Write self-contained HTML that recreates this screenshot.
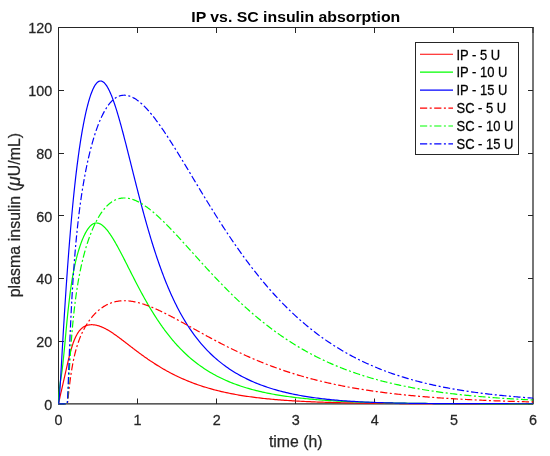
<!DOCTYPE html>
<html lang="en"><head><meta charset="utf-8"><title>IP vs. SC insulin absorption</title>
<style>
html,body{margin:0;padding:0;background:#fff;}
body{width:550px;height:456px;overflow:hidden;position:relative;font-family:"Liberation Sans",Arial,Helvetica,sans-serif;}
</style></head><body>
<svg width="550" height="456" viewBox="0 0 550 456" style="display:block;position:absolute;left:0;top:0">
<rect x="0" y="0" width="550" height="456" fill="#ffffff"/>
<clipPath id="ax"><rect x="58.00" y="27.00" width="475.50" height="378.00"/></clipPath>
<g stroke="#262626" stroke-width="1" fill="none" shape-rendering="auto">
<path d="M58.50,404.50 V27.50 H533.50"/>
<path d="M58.00,403.90 H533.50 M533.00,27.00 V404.50" stroke-width="1.25"/>
<path d="M58.50,404.00 v-5.50 M58.50,27.50 v5.50"/>
<path d="M137.50,404.00 v-5.50 M137.50,27.50 v5.50"/>
<path d="M216.50,404.00 v-5.50 M216.50,27.50 v5.50"/>
<path d="M295.50,404.00 v-5.50 M295.50,27.50 v5.50"/>
<path d="M374.50,404.00 v-5.50 M374.50,27.50 v5.50"/>
<path d="M453.50,404.00 v-5.50 M453.50,27.50 v5.50"/>
<path d="M533.00,404.00 v-5.50 M533.00,27.50 v5.50"/>
<path d="M58.50,404.00 h5.50 M533.00,404.00 h-5.00"/>
<path d="M58.50,341.50 h5.50 M533.00,341.50 h-5.00"/>
<path d="M58.50,278.50 h5.50 M533.00,278.50 h-5.00"/>
<path d="M58.50,215.50 h5.50 M533.00,215.50 h-5.00"/>
<path d="M58.50,153.50 h5.50 M533.00,153.50 h-5.00"/>
<path d="M58.50,90.50 h5.50 M533.00,90.50 h-5.00"/>
<path d="M58.50,27.50 h5.50 M533.00,27.50 h-5.00"/>
</g>
<g fill="none" stroke-width="1.2" stroke-linejoin="round" clip-path="url(#ax)">
<path d="M58.50,403.95 L58.90,402.02 L59.29,400.13 L59.69,398.29 L60.08,396.49 L60.48,394.72 L60.87,392.99 L61.27,391.27 L61.66,389.56 L62.06,387.85 L62.45,386.14 L62.85,384.42 L63.24,382.69 L63.64,380.95 L64.04,379.20 L64.43,377.43 L64.83,375.66 L65.22,373.89 L65.62,372.11 L66.01,370.34 L66.41,368.57 L66.80,366.81 L67.20,365.07 L67.59,363.35 L67.99,361.66 L68.39,359.99 L68.78,358.36 L69.18,356.76 L69.57,355.20 L69.97,353.68 L70.36,352.20 L70.76,350.77 L71.15,349.38 L71.55,348.05 L71.94,346.76 L72.34,345.51 L72.73,344.32 L73.13,343.17 L73.53,342.08 L73.92,341.03 L74.32,340.02 L74.71,339.07 L75.11,338.15 L75.50,337.28 L75.90,336.46 L76.29,335.67 L76.69,334.93 L77.08,334.22 L77.48,333.55 L77.88,332.92 L78.27,332.32 L78.67,331.75 L79.06,331.22 L79.46,330.71 L79.85,330.24 L80.25,329.79 L80.64,329.37 L81.04,328.97 L81.43,328.60 L81.83,328.25 L82.22,327.93 L82.62,327.62 L83.02,327.34 L83.41,327.07 L83.81,326.82 L84.20,326.59 L84.60,326.38 L84.99,326.18 L85.39,325.99 L85.78,325.83 L86.18,325.67 L86.57,325.53 L86.97,325.40 L87.37,325.29 L87.76,325.18 L88.16,325.09 L88.55,325.01 L88.95,324.94 L89.34,324.88 L89.74,324.83 L90.13,324.79 L90.53,324.76 L90.92,324.73 L91.32,324.72 L91.72,324.72 L92.11,324.72 L92.51,324.73 L92.90,324.75 L93.30,324.78 L93.69,324.82 L94.09,324.86 L94.48,324.91 L94.88,324.97 L95.27,325.03 L95.67,325.11 L96.06,325.18 L96.46,325.27 L96.86,325.36 L97.25,325.46 L97.65,325.56 L98.04,325.67 L98.44,325.79 L98.83,325.91 L99.23,326.04 L99.62,326.17 L100.02,326.31 L100.41,326.46 L100.81,326.61 L101.21,326.76 L101.60,326.92 L102.00,327.09 L102.39,327.26 L102.79,327.43 L103.18,327.61 L103.58,327.79 L103.97,327.98 L104.37,328.18 L104.76,328.37 L105.16,328.58 L105.55,328.78 L105.95,328.99 L106.35,329.20 L106.74,329.42 L107.14,329.64 L107.53,329.87 L107.93,330.10 L108.32,330.33 L108.72,330.56 L109.11,330.80 L109.51,331.04 L109.90,331.29 L110.30,331.54 L110.69,331.79 L111.09,332.04 L111.49,332.30 L111.88,332.56 L112.28,332.82 L112.67,333.08 L113.07,333.35 L113.46,333.62 L113.86,333.89 L114.25,334.16 L114.65,334.43 L115.04,334.71 L115.44,334.99 L115.84,335.27 L116.23,335.55 L116.63,335.84 L117.02,336.12 L117.42,336.41 L117.81,336.70 L118.21,336.99 L118.60,337.28 L119.00,337.57 L119.39,337.86 L119.79,338.16 L120.19,338.46 L120.58,338.75 L120.98,339.05 L121.37,339.35 L121.77,339.65 L122.16,339.95 L122.56,340.25 L122.95,340.55 L123.35,340.85 L123.74,341.15 L124.14,341.46 L124.53,341.76 L124.93,342.06 L125.33,342.37 L125.72,342.67 L126.12,342.98 L126.51,343.28 L126.91,343.59 L127.30,343.89 L127.70,344.20 L128.09,344.50 L128.49,344.81 L128.88,345.11 L129.28,345.42 L129.68,345.72 L130.07,346.03 L130.47,346.33 L130.86,346.64 L131.26,346.94 L131.65,347.24 L132.05,347.55 L132.44,347.85 L132.84,348.15 L133.23,348.46 L133.63,348.76 L134.02,349.06 L134.42,349.36 L134.82,349.66 L135.21,349.96 L135.61,350.26 L136.00,350.56 L136.40,350.85 L136.79,351.15 L137.19,351.45 L137.58,351.74 L137.98,352.04 L138.37,352.33 L138.77,352.63 L139.17,352.92 L139.56,353.21 L139.96,353.50 L140.35,353.80 L140.75,354.09 L141.14,354.37 L141.54,354.66 L141.93,354.95 L142.33,355.24 L142.72,355.52 L143.12,355.81 L143.51,356.09 L143.91,356.37 L144.31,356.65 L144.70,356.94 L145.10,357.22 L145.49,357.49 L145.89,357.77 L146.28,358.05 L146.68,358.33 L147.07,358.60 L147.47,358.87 L147.86,359.15 L148.26,359.42 L148.66,359.69 L149.05,359.96 L149.45,360.23 L149.84,360.50 L150.24,360.76 L150.63,361.03 L151.03,361.29 L151.42,361.56 L151.82,361.82 L152.21,362.08 L152.61,362.34 L153.00,362.60 L153.40,362.86 L153.80,363.11 L154.19,363.37 L154.59,363.62 L154.98,363.88 L155.38,364.13 L155.77,364.38 L156.17,364.63 L156.56,364.88 L156.96,365.12 L157.35,365.37 L157.75,365.62 L158.14,365.86 L158.54,366.10 L158.94,366.35 L159.33,366.59 L159.73,366.83 L160.12,367.07 L160.52,367.30 L160.91,367.54 L161.31,367.77 L161.70,368.01 L162.10,368.24 L162.49,368.47 L162.89,368.70 L163.29,368.93 L163.68,369.16 L164.08,369.39 L164.47,369.61 L164.87,369.84 L165.26,370.06 L165.66,370.28 L166.05,370.51 L166.45,370.73 L166.84,370.94 L167.24,371.16 L167.63,371.38 L168.03,371.59 L168.43,371.81 L168.82,372.02 L169.22,372.23 L169.61,372.45 L170.01,372.66 L170.40,372.86 L170.80,373.07 L171.19,373.28 L171.59,373.48 L171.98,373.69 L172.38,373.89 L172.78,374.09 L173.17,374.29 L173.57,374.49 L173.96,374.69 L174.36,374.89 L174.75,375.09 L175.15,375.28 L175.54,375.48 L175.94,375.67 L176.33,375.86 L176.73,376.05 L177.12,376.24 L178.71,376.99 L180.29,377.73 L181.87,378.44 L183.45,379.14 L185.03,379.82 L186.62,380.49 L188.20,381.14 L189.78,381.77 L191.36,382.39 L192.94,382.99 L194.52,383.58 L196.10,384.16 L197.69,384.72 L199.27,385.26 L200.85,385.79 L202.43,386.31 L204.01,386.81 L205.59,387.30 L207.18,387.78 L208.76,388.25 L210.34,388.70 L211.92,389.14 L213.50,389.57 L215.09,389.99 L216.67,390.40 L218.25,390.79 L219.83,391.17 L221.41,391.55 L222.99,391.91 L224.58,392.27 L226.16,392.61 L227.74,392.94 L229.32,393.27 L230.90,393.58 L232.48,393.89 L234.06,394.19 L235.65,394.48 L237.23,394.76 L238.81,395.04 L240.39,395.30 L241.97,395.56 L243.55,395.81 L245.14,396.05 L246.72,396.29 L248.30,396.52 L249.88,396.74 L251.46,396.96 L253.04,397.17 L254.63,397.37 L256.21,397.57 L257.79,397.76 L259.37,397.95 L260.95,398.13 L262.53,398.31 L264.12,398.48 L265.70,398.65 L267.28,398.81 L268.86,398.96 L270.44,399.11 L272.02,399.26 L273.61,399.40 L275.19,399.54 L276.77,399.68 L278.35,399.81 L279.93,399.93 L281.51,400.05 L283.10,400.17 L284.68,400.29 L286.26,400.40 L287.84,400.51 L289.42,400.61 L291.00,400.71 L292.59,400.81 L294.17,400.91 L295.75,401.00 L297.33,401.09 L298.91,401.18 L300.50,401.26 L302.08,401.34 L303.66,401.42 L305.24,401.50 L306.82,401.58 L308.40,401.65 L309.99,401.72 L311.57,401.79 L313.15,401.85 L314.73,401.91 L316.31,401.98 L317.89,402.04 L319.47,402.09 L321.06,402.15 L322.64,402.20 L324.22,402.26 L325.80,402.31 L327.38,402.36 L328.96,402.41 L330.55,402.45 L332.13,402.50 L333.71,402.54 L335.29,402.58 L336.87,402.62 L338.45,402.66 L340.04,402.70 L341.62,402.74 L343.20,402.77 L344.78,402.81 L346.36,402.84 L347.94,402.88 L349.53,402.91 L351.11,402.94 L352.69,402.97 L354.27,403.00 L355.85,403.02 L357.44,403.05 L359.02,403.08 L360.60,403.10 L362.18,403.13 L363.76,403.15 L365.34,403.17 L366.93,403.20 L368.51,403.22 L370.09,403.24 L371.67,403.26 L373.25,403.28 L374.83,403.30 L376.41,403.32 L378.00,403.33 L379.58,403.35 L381.16,403.37 L382.74,403.38 L384.32,403.40 L385.91,403.41 L387.49,403.43 L389.07,403.44 L390.65,403.46 L392.23,403.47 L393.81,403.48 L395.39,403.50 L396.98,403.51 L398.56,403.52 L400.14,403.53 L401.72,403.54 L403.30,403.55 L404.88,403.56 L406.47,403.58 L408.05,403.58 L409.63,403.59 L411.21,403.60 L412.79,403.61 L414.38,403.62 L415.96,403.63 L417.54,403.64 L419.12,403.65 L420.70,403.65 L422.28,403.66 L423.87,403.67 L425.45,403.68 L427.03,403.68 L428.61,403.69 L430.19,403.70 L431.77,403.70 L433.36,403.71 L434.94,403.71 L436.52,403.72 L438.10,403.73 L439.68,403.73 L441.26,403.74 L442.84,403.74 L444.43,403.75 L446.01,403.75 L447.59,403.76 L449.17,403.76 L450.75,403.77 L452.34,403.77 L453.92,403.77 L455.50,403.78 L457.08,403.78 L458.66,403.79 L460.24,403.79 L461.82,403.79 L463.41,403.80 L464.99,403.80 L466.57,403.80 L468.15,403.81 L469.73,403.81 L471.32,403.81 L472.90,403.82 L474.48,403.82 L476.06,403.82 L477.64,403.82 L479.22,403.83 L480.81,403.83 L482.39,403.83 L483.97,403.84 L485.55,403.84 L487.13,403.84 L488.71,403.84 L490.30,403.84 L491.88,403.85 L493.46,403.85 L495.04,403.85 L496.62,403.85 L498.20,403.86 L499.79,403.86 L501.37,403.86 L502.95,403.86 L504.53,403.86 L506.11,403.86 L507.69,403.87 L509.28,403.87 L510.86,403.87 L512.44,403.87 L514.02,403.87 L515.60,403.87 L517.18,403.88 L518.77,403.88 L520.35,403.88 L521.93,403.88 L523.51,403.88 L525.09,403.88 L526.67,403.88 L528.26,403.89 L529.84,403.89 L531.42,403.89 L533.00,403.89" stroke="#ff0000"/>
<path d="M58.50,403.95 L58.90,395.84 L59.29,390.44 L59.69,386.58 L60.08,383.59 L60.48,381.04 L60.87,378.63 L61.27,376.16 L61.66,373.51 L62.06,370.62 L62.45,367.47 L62.85,364.06 L63.24,360.41 L63.64,356.56 L64.04,352.55 L64.43,348.42 L64.83,344.21 L65.22,339.96 L65.62,335.70 L66.01,331.46 L66.41,327.27 L66.80,323.16 L67.20,319.14 L67.59,315.23 L67.99,311.43 L68.39,307.76 L68.78,304.22 L69.18,300.81 L69.57,297.54 L69.97,294.40 L70.36,291.39 L70.76,288.51 L71.15,285.76 L71.55,283.12 L71.94,280.60 L72.34,278.19 L72.73,275.88 L73.13,273.67 L73.53,271.55 L73.92,269.51 L74.32,267.56 L74.71,265.69 L75.11,263.88 L75.50,262.15 L75.90,260.48 L76.29,258.86 L76.69,257.31 L77.08,255.80 L77.48,254.35 L77.88,252.94 L78.27,251.58 L78.67,250.26 L79.06,248.98 L79.46,247.74 L79.85,246.54 L80.25,245.37 L80.64,244.24 L81.04,243.14 L81.43,242.07 L81.83,241.04 L82.22,240.04 L82.62,239.07 L83.02,238.13 L83.41,237.22 L83.81,236.34 L84.20,235.50 L84.60,234.68 L84.99,233.89 L85.39,233.12 L85.78,232.39 L86.18,231.69 L86.57,231.01 L86.97,230.36 L87.37,229.75 L87.76,229.16 L88.16,228.59 L88.55,228.06 L88.95,227.55 L89.34,227.07 L89.74,226.62 L90.13,226.20 L90.53,225.80 L90.92,225.44 L91.32,225.09 L91.72,224.78 L92.11,224.49 L92.51,224.23 L92.90,223.99 L93.30,223.78 L93.69,223.60 L94.09,223.44 L94.48,223.30 L94.88,223.19 L95.27,223.11 L95.67,223.05 L96.06,223.01 L96.46,223.00 L96.86,223.01 L97.25,223.04 L97.65,223.09 L98.04,223.17 L98.44,223.27 L98.83,223.39 L99.23,223.53 L99.62,223.69 L100.02,223.87 L100.41,224.08 L100.81,224.30 L101.21,224.54 L101.60,224.80 L102.00,225.08 L102.39,225.37 L102.79,225.68 L103.18,226.01 L103.58,226.36 L103.97,226.73 L104.37,227.11 L104.76,227.50 L105.16,227.91 L105.55,228.34 L105.95,228.78 L106.35,229.23 L106.74,229.70 L107.14,230.18 L107.53,230.68 L107.93,231.18 L108.32,231.70 L108.72,232.24 L109.11,232.78 L109.51,233.34 L109.90,233.90 L110.30,234.48 L110.69,235.06 L111.09,235.66 L111.49,236.27 L111.88,236.88 L112.28,237.51 L112.67,238.14 L113.07,238.78 L113.46,239.43 L113.86,240.09 L114.25,240.76 L114.65,241.43 L115.04,242.11 L115.44,242.80 L115.84,243.49 L116.23,244.19 L116.63,244.89 L117.02,245.61 L117.42,246.32 L117.81,247.04 L118.21,247.77 L118.60,248.50 L119.00,249.24 L119.39,249.98 L119.79,250.72 L120.19,251.47 L120.58,252.22 L120.98,252.97 L121.37,253.73 L121.77,254.49 L122.16,255.25 L122.56,256.02 L122.95,256.79 L123.35,257.56 L123.74,258.33 L124.14,259.10 L124.53,259.88 L124.93,260.65 L125.33,261.43 L125.72,262.21 L126.12,262.99 L126.51,263.78 L126.91,264.56 L127.30,265.34 L127.70,266.12 L128.09,266.91 L128.49,267.69 L128.88,268.47 L129.28,269.26 L129.68,270.04 L130.07,270.82 L130.47,271.61 L130.86,272.39 L131.26,273.17 L131.65,273.95 L132.05,274.73 L132.44,275.51 L132.84,276.28 L133.23,277.06 L133.63,277.83 L134.02,278.61 L134.42,279.38 L134.82,280.15 L135.21,280.92 L135.61,281.68 L136.00,282.45 L136.40,283.21 L136.79,283.97 L137.19,284.73 L137.58,285.48 L137.98,286.24 L138.37,286.99 L138.77,287.74 L139.17,288.49 L139.56,289.23 L139.96,289.98 L140.35,290.72 L140.75,291.45 L141.14,292.19 L141.54,292.92 L141.93,293.65 L142.33,294.37 L142.72,295.10 L143.12,295.82 L143.51,296.54 L143.91,297.25 L144.31,297.96 L144.70,298.67 L145.10,299.38 L145.49,300.08 L145.89,300.78 L146.28,301.47 L146.68,302.17 L147.07,302.86 L147.47,303.54 L147.86,304.23 L148.26,304.90 L148.66,305.58 L149.05,306.25 L149.45,306.92 L149.84,307.59 L150.24,308.25 L150.63,308.91 L151.03,309.57 L151.42,310.22 L151.82,310.87 L152.21,311.52 L152.61,312.16 L153.00,312.80 L153.40,313.43 L153.80,314.07 L154.19,314.69 L154.59,315.32 L154.98,315.94 L155.38,316.56 L155.77,317.17 L156.17,317.78 L156.56,318.39 L156.96,318.99 L157.35,319.60 L157.75,320.19 L158.14,320.78 L158.54,321.37 L158.94,321.96 L159.33,322.54 L159.73,323.12 L160.12,323.70 L160.52,324.27 L160.91,324.84 L161.31,325.40 L161.70,325.96 L162.10,326.52 L162.49,327.08 L162.89,327.63 L163.29,328.18 L163.68,328.72 L164.08,329.26 L164.47,329.80 L164.87,330.33 L165.26,330.86 L165.66,331.39 L166.05,331.91 L166.45,332.43 L166.84,332.95 L167.24,333.46 L167.63,333.97 L168.03,334.48 L168.43,334.98 L168.82,335.48 L169.22,335.98 L169.61,336.47 L170.01,336.96 L170.40,337.45 L170.80,337.93 L171.19,338.41 L171.59,338.89 L171.98,339.36 L172.38,339.83 L172.78,340.30 L173.17,340.76 L173.57,341.22 L173.96,341.68 L174.36,342.14 L174.75,342.59 L175.15,343.04 L175.54,343.48 L175.94,343.92 L176.33,344.36 L176.73,344.80 L177.12,345.23 L178.71,346.93 L180.29,348.59 L181.87,350.20 L183.45,351.76 L185.03,353.28 L186.62,354.75 L188.20,356.19 L189.78,357.58 L191.36,358.93 L192.94,360.24 L194.52,361.52 L196.10,362.76 L197.69,363.96 L199.27,365.13 L200.85,366.26 L202.43,367.36 L204.01,368.43 L205.59,369.47 L207.18,370.48 L208.76,371.45 L210.34,372.40 L211.92,373.32 L213.50,374.22 L215.09,375.08 L216.67,375.93 L218.25,376.74 L219.83,377.54 L221.41,378.31 L222.99,379.05 L224.58,379.78 L226.16,380.48 L227.74,381.17 L229.32,381.83 L230.90,382.47 L232.48,383.10 L234.06,383.70 L235.65,384.29 L237.23,384.86 L238.81,385.42 L240.39,385.96 L241.97,386.48 L243.55,386.99 L245.14,387.48 L246.72,387.96 L248.30,388.42 L249.88,388.87 L251.46,389.31 L253.04,389.73 L254.63,390.15 L256.21,390.55 L257.79,390.94 L259.37,391.31 L260.95,391.68 L262.53,392.04 L264.12,392.38 L265.70,392.72 L267.28,393.05 L268.86,393.36 L270.44,393.67 L272.02,393.97 L273.61,394.26 L275.19,394.54 L276.77,394.81 L278.35,395.08 L279.93,395.34 L281.51,395.59 L283.10,395.83 L284.68,396.07 L286.26,396.30 L287.84,396.52 L289.42,396.74 L291.00,396.95 L292.59,397.16 L294.17,397.35 L295.75,397.55 L297.33,397.74 L298.91,397.92 L300.50,398.10 L302.08,398.27 L303.66,398.43 L305.24,398.60 L306.82,398.76 L308.40,398.91 L309.99,399.06 L311.57,399.20 L313.15,399.34 L314.73,399.48 L316.31,399.61 L317.89,399.74 L319.47,399.87 L321.06,399.99 L322.64,400.11 L324.22,400.22 L325.80,400.33 L327.38,400.44 L328.96,400.55 L330.55,400.65 L332.13,400.75 L333.71,400.84 L335.29,400.94 L336.87,401.03 L338.45,401.11 L340.04,401.20 L341.62,401.28 L343.20,401.36 L344.78,401.44 L346.36,401.52 L347.94,401.59 L349.53,401.66 L351.11,401.73 L352.69,401.80 L354.27,401.87 L355.85,401.93 L357.44,401.99 L359.02,402.05 L360.60,402.11 L362.18,402.17 L363.76,402.22 L365.34,402.27 L366.93,402.33 L368.51,402.38 L370.09,402.42 L371.67,402.47 L373.25,402.52 L374.83,402.56 L376.41,402.60 L378.00,402.65 L379.58,402.69 L381.16,402.72 L382.74,402.76 L384.32,402.80 L385.91,402.84 L387.49,402.87 L389.07,402.90 L390.65,402.94 L392.23,402.97 L393.81,403.00 L395.39,403.03 L396.98,403.06 L398.56,403.08 L400.14,403.11 L401.72,403.14 L403.30,403.16 L404.88,403.19 L406.47,403.21 L408.05,403.24 L409.63,403.26 L411.21,403.28 L412.79,403.30 L414.38,403.32 L415.96,403.34 L417.54,403.36 L419.12,403.38 L420.70,403.40 L422.28,403.41 L423.87,403.43 L425.45,403.45 L427.03,403.46 L428.61,403.48 L430.19,403.49 L431.77,403.51 L433.36,403.52 L434.94,403.53 L436.52,403.55 L438.10,403.56 L439.68,403.57 L441.26,403.58 L442.84,403.60 L444.43,403.61 L446.01,403.62 L447.59,403.63 L449.17,403.64 L450.75,403.65 L452.34,403.66 L453.92,403.67 L455.50,403.68 L457.08,403.68 L458.66,403.69 L460.24,403.70 L461.82,403.71 L463.41,403.72 L464.99,403.72 L466.57,403.73 L468.15,403.74 L469.73,403.74 L471.32,403.75 L472.90,403.76 L474.48,403.76 L476.06,403.77 L477.64,403.77 L479.22,403.78 L480.81,403.79 L482.39,403.79 L483.97,403.80 L485.55,403.80 L487.13,403.80 L488.71,403.81 L490.30,403.81 L491.88,403.82 L493.46,403.82 L495.04,403.83 L496.62,403.83 L498.20,403.83 L499.79,403.84 L501.37,403.84 L502.95,403.84 L504.53,403.85 L506.11,403.85 L507.69,403.85 L509.28,403.86 L510.86,403.86 L512.44,403.86 L514.02,403.86 L515.60,403.87 L517.18,403.87 L518.77,403.87 L520.35,403.87 L521.93,403.88 L523.51,403.88 L525.09,403.88 L526.67,403.88 L528.26,403.88 L529.84,403.89 L531.42,403.89 L533.00,403.89" stroke="#00ff00"/>
<path d="M58.50,403.95 L58.90,401.52 L59.29,397.55 L59.69,392.56 L60.08,386.83 L60.48,380.59 L60.87,374.02 L61.27,367.27 L61.66,360.42 L62.06,353.55 L62.45,346.71 L62.85,339.94 L63.24,333.26 L63.64,326.68 L64.04,320.20 L64.43,313.85 L64.83,307.61 L65.22,301.48 L65.62,295.47 L66.01,289.57 L66.41,283.78 L66.80,278.10 L67.20,272.52 L67.59,267.06 L67.99,261.69 L68.39,256.44 L68.78,251.28 L69.18,246.23 L69.57,241.28 L69.97,236.43 L70.36,231.69 L70.76,227.04 L71.15,222.50 L71.55,218.05 L71.94,213.71 L72.34,209.46 L72.73,205.31 L73.13,201.25 L73.53,197.29 L73.92,193.42 L74.32,189.65 L74.71,185.97 L75.11,182.37 L75.50,178.86 L75.90,175.44 L76.29,172.10 L76.69,168.85 L77.08,165.67 L77.48,162.57 L77.88,159.55 L78.27,156.61 L78.67,153.74 L79.06,150.94 L79.46,148.21 L79.85,145.54 L80.25,142.95 L80.64,140.42 L81.04,137.95 L81.43,135.55 L81.83,133.21 L82.22,130.93 L82.62,128.70 L83.02,126.54 L83.41,124.43 L83.81,122.38 L84.20,120.38 L84.60,118.43 L84.99,116.55 L85.39,114.71 L85.78,112.92 L86.18,111.19 L86.57,109.51 L86.97,107.88 L87.37,106.30 L87.76,104.77 L88.16,103.29 L88.55,101.86 L88.95,100.47 L89.34,99.14 L89.74,97.86 L90.13,96.62 L90.53,95.43 L90.92,94.29 L91.32,93.20 L91.72,92.16 L92.11,91.16 L92.51,90.21 L92.90,89.31 L93.30,88.46 L93.69,87.65 L94.09,86.89 L94.48,86.18 L94.88,85.52 L95.27,84.90 L95.67,84.32 L96.06,83.80 L96.46,83.32 L96.86,82.88 L97.25,82.49 L97.65,82.15 L98.04,81.85 L98.44,81.60 L98.83,81.39 L99.23,81.22 L99.62,81.10 L100.02,81.03 L100.41,80.99 L100.81,81.00 L101.21,81.05 L101.60,81.14 L102.00,81.28 L102.39,81.45 L102.79,81.67 L103.18,81.92 L103.58,82.22 L103.97,82.55 L104.37,82.93 L104.76,83.34 L105.16,83.79 L105.55,84.27 L105.95,84.80 L106.35,85.35 L106.74,85.95 L107.14,86.58 L107.53,87.24 L107.93,87.94 L108.32,88.66 L108.72,89.42 L109.11,90.22 L109.51,91.04 L109.90,91.89 L110.30,92.78 L110.69,93.69 L111.09,94.63 L111.49,95.60 L111.88,96.59 L112.28,97.61 L112.67,98.66 L113.07,99.73 L113.46,100.83 L113.86,101.95 L114.25,103.09 L114.65,104.26 L115.04,105.45 L115.44,106.65 L115.84,107.88 L116.23,109.13 L116.63,110.40 L117.02,111.68 L117.42,112.99 L117.81,114.31 L118.21,115.65 L118.60,117.00 L119.00,118.37 L119.39,119.75 L119.79,121.15 L120.19,122.56 L120.58,123.98 L120.98,125.42 L121.37,126.87 L121.77,128.33 L122.16,129.80 L122.56,131.28 L122.95,132.76 L123.35,134.26 L123.74,135.77 L124.14,137.28 L124.53,138.81 L124.93,140.34 L125.33,141.87 L125.72,143.41 L126.12,144.96 L126.51,146.51 L126.91,148.07 L127.30,149.63 L127.70,151.20 L128.09,152.77 L128.49,154.34 L128.88,155.91 L129.28,157.49 L129.68,159.06 L130.07,160.64 L130.47,162.22 L130.86,163.80 L131.26,165.38 L131.65,166.96 L132.05,168.54 L132.44,170.12 L132.84,171.70 L133.23,173.28 L133.63,174.85 L134.02,176.43 L134.42,178.00 L134.82,179.56 L135.21,181.13 L135.61,182.69 L136.00,184.25 L136.40,185.80 L136.79,187.36 L137.19,188.90 L137.58,190.44 L137.98,191.98 L138.37,193.52 L138.77,195.04 L139.17,196.57 L139.56,198.08 L139.96,199.60 L140.35,201.10 L140.75,202.60 L141.14,204.10 L141.54,205.59 L141.93,207.07 L142.33,208.54 L142.72,210.01 L143.12,211.47 L143.51,212.93 L143.91,214.38 L144.31,215.82 L144.70,217.25 L145.10,218.68 L145.49,220.09 L145.89,221.51 L146.28,222.91 L146.68,224.30 L147.07,225.69 L147.47,227.07 L147.86,228.44 L148.26,229.81 L148.66,231.16 L149.05,232.51 L149.45,233.85 L149.84,235.18 L150.24,236.50 L150.63,237.82 L151.03,239.13 L151.42,240.42 L151.82,241.71 L152.21,242.99 L152.61,244.26 L153.00,245.53 L153.40,246.78 L153.80,248.03 L154.19,249.27 L154.59,250.50 L154.98,251.72 L155.38,252.93 L155.77,254.13 L156.17,255.33 L156.56,256.51 L156.96,257.69 L157.35,258.86 L157.75,260.02 L158.14,261.17 L158.54,262.31 L158.94,263.45 L159.33,264.57 L159.73,265.69 L160.12,266.80 L160.52,267.90 L160.91,268.99 L161.31,270.07 L161.70,271.15 L162.10,272.22 L162.49,273.27 L162.89,274.32 L163.29,275.37 L163.68,276.40 L164.08,277.42 L164.47,278.44 L164.87,279.45 L165.26,280.45 L165.66,281.44 L166.05,282.43 L166.45,283.40 L166.84,284.37 L167.24,285.33 L167.63,286.29 L168.03,287.23 L168.43,288.17 L168.82,289.10 L169.22,290.02 L169.61,290.93 L170.01,291.84 L170.40,292.74 L170.80,293.63 L171.19,294.51 L171.59,295.39 L171.98,296.26 L172.38,297.12 L172.78,297.98 L173.17,298.82 L173.57,299.66 L173.96,300.50 L174.36,301.32 L174.75,302.14 L175.15,302.96 L175.54,303.76 L175.94,304.56 L176.33,305.35 L176.73,306.14 L177.12,306.91 L178.71,309.96 L180.29,312.91 L181.87,315.75 L183.45,318.51 L185.03,321.16 L186.62,323.73 L188.20,326.21 L189.78,328.61 L191.36,330.93 L192.94,333.17 L194.52,335.34 L196.10,337.44 L197.69,339.46 L199.27,341.42 L200.85,343.32 L202.43,345.16 L204.01,346.93 L205.59,348.65 L207.18,350.32 L208.76,351.93 L210.34,353.49 L211.92,355.00 L213.50,356.47 L215.09,357.89 L216.67,359.27 L218.25,360.60 L219.83,361.89 L221.41,363.15 L222.99,364.37 L224.58,365.55 L226.16,366.69 L227.74,367.80 L229.32,368.88 L230.90,369.93 L232.48,370.95 L234.06,371.93 L235.65,372.89 L237.23,373.82 L238.81,374.73 L240.39,375.60 L241.97,376.46 L243.55,377.28 L245.14,378.09 L246.72,378.87 L248.30,379.63 L249.88,380.37 L251.46,381.08 L253.04,381.78 L254.63,382.46 L256.21,383.11 L257.79,383.75 L259.37,384.37 L260.95,384.97 L262.53,385.56 L264.12,386.13 L265.70,386.68 L267.28,387.22 L268.86,387.74 L270.44,388.25 L272.02,388.74 L273.61,389.22 L275.19,389.68 L276.77,390.13 L278.35,390.57 L279.93,391.00 L281.51,391.41 L283.10,391.81 L284.68,392.20 L286.26,392.58 L287.84,392.95 L289.42,393.31 L291.00,393.65 L292.59,393.99 L294.17,394.31 L295.75,394.63 L297.33,394.94 L298.91,395.24 L300.50,395.53 L302.08,395.81 L303.66,396.08 L305.24,396.34 L306.82,396.60 L308.40,396.85 L309.99,397.09 L311.57,397.32 L313.15,397.55 L314.73,397.77 L316.31,397.98 L317.89,398.19 L319.47,398.39 L321.06,398.58 L322.64,398.77 L324.22,398.95 L325.80,399.13 L327.38,399.30 L328.96,399.46 L330.55,399.62 L332.13,399.78 L333.71,399.93 L335.29,400.07 L336.87,400.21 L338.45,400.35 L340.04,400.48 L341.62,400.60 L343.20,400.73 L344.78,400.85 L346.36,400.96 L347.94,401.07 L349.53,401.18 L351.11,401.28 L352.69,401.38 L354.27,401.47 L355.85,401.57 L357.44,401.66 L359.02,401.74 L360.60,401.82 L362.18,401.90 L363.76,401.98 L365.34,402.06 L366.93,402.13 L368.51,402.20 L370.09,402.26 L371.67,402.33 L373.25,402.39 L374.83,402.45 L376.41,402.50 L378.00,402.56 L379.58,402.61 L381.16,402.66 L382.74,402.71 L384.32,402.75 L385.91,402.80 L387.49,402.84 L389.07,402.88 L390.65,402.92 L392.23,402.96 L393.81,403.00 L395.39,403.03 L396.98,403.07 L398.56,403.10 L400.14,403.13 L401.72,403.16 L403.30,403.18 L404.88,403.21 L406.47,403.24 L408.05,403.26 L409.63,403.29 L411.21,403.31 L412.79,403.33 L414.38,403.35 L415.96,403.37 L417.54,403.39 L419.12,403.41 L420.70,403.42 L422.28,403.44 L423.87,403.45 L425.45,403.47 L427.03,403.48 L428.61,403.50 L430.19,403.51 L431.77,403.52 L433.36,403.53 L434.94,403.54 L436.52,403.55 L438.10,403.56 L439.68,403.57 L441.26,403.58 L442.84,403.59 L444.43,403.60 L446.01,403.61 L447.59,403.61 L449.17,403.62 L450.75,403.63 L452.34,403.63 L453.92,403.64 L455.50,403.64 L457.08,403.65 L458.66,403.65 L460.24,403.66 L461.82,403.66 L463.41,403.67 L464.99,403.67 L466.57,403.67 L468.15,403.68 L469.73,403.68 L471.32,403.68 L472.90,403.69 L474.48,403.69 L476.06,403.69 L477.64,403.70 L479.22,403.70 L480.81,403.70 L482.39,403.70 L483.97,403.70 L485.55,403.71 L487.13,403.71 L488.71,403.71 L490.30,403.71 L491.88,403.71 L493.46,403.71 L495.04,403.72 L496.62,403.72 L498.20,403.72 L499.79,403.72 L501.37,403.72 L502.95,403.72 L504.53,403.72 L506.11,403.72 L507.69,403.72 L509.28,403.73 L510.86,403.73 L512.44,403.73 L514.02,403.73 L515.60,403.73 L517.18,403.73 L518.77,403.73 L520.35,403.73 L521.93,403.73 L523.51,403.73 L525.09,403.73 L526.67,403.74 L528.26,403.74 L529.84,403.74 L531.42,403.74 L533.00,403.74" stroke="#0000ff"/>
<path d="M58.50,403.95 L58.90,403.95 L59.29,403.95 L59.69,403.95 L60.08,403.95 L60.48,403.95 L60.87,403.95 L61.27,403.95 L61.66,403.95 L62.06,403.95 L62.45,403.95 L62.85,403.95 L63.24,403.95 L63.64,403.95 L64.04,403.95 L64.43,403.95 L64.83,403.95 L65.22,403.95 L65.62,403.95 L66.01,403.95 L66.41,403.95 L66.80,403.95 L67.20,403.95 L67.59,402.33 L67.99,399.10 L68.39,395.46 L68.78,391.80 L69.18,388.26 L69.57,384.90 L69.97,381.72 L70.36,378.72 L70.76,375.89 L71.15,373.21 L71.55,370.69 L71.94,368.30 L72.34,366.03 L72.73,363.88 L73.13,361.85 L73.53,359.91 L73.92,358.06 L74.32,356.30 L74.71,354.62 L75.11,353.02 L75.50,351.49 L75.90,350.02 L76.29,348.61 L76.69,347.26 L77.08,345.96 L77.48,344.71 L77.88,343.50 L78.27,342.34 L78.67,341.22 L79.06,340.14 L79.46,339.09 L79.85,338.08 L80.25,337.09 L80.64,336.14 L81.04,335.22 L81.43,334.32 L81.83,333.45 L82.22,332.60 L82.62,331.78 L83.02,330.97 L83.41,330.19 L83.81,329.43 L84.20,328.69 L84.60,327.96 L84.99,327.25 L85.39,326.56 L85.78,325.89 L86.18,325.23 L86.57,324.58 L86.97,323.95 L87.37,323.33 L87.76,322.73 L88.16,322.14 L88.55,321.56 L88.95,321.00 L89.34,320.44 L89.74,319.90 L90.13,319.37 L90.53,318.85 L90.92,318.34 L91.32,317.84 L91.72,317.35 L92.11,316.87 L92.51,316.40 L92.90,315.94 L93.30,315.49 L93.69,315.05 L94.09,314.62 L94.48,314.20 L94.88,313.78 L95.27,313.38 L95.67,312.98 L96.06,312.59 L96.46,312.21 L96.86,311.84 L97.25,311.47 L97.65,311.11 L98.04,310.77 L98.44,310.42 L98.83,310.09 L99.23,309.76 L99.62,309.44 L100.02,309.13 L100.41,308.82 L100.81,308.52 L101.21,308.23 L101.60,307.95 L102.00,307.67 L102.39,307.40 L102.79,307.13 L103.18,306.87 L103.58,306.62 L103.97,306.37 L104.37,306.13 L104.76,305.90 L105.16,305.67 L105.55,305.45 L105.95,305.23 L106.35,305.02 L106.74,304.82 L107.14,304.62 L107.53,304.43 L107.93,304.24 L108.32,304.06 L108.72,303.89 L109.11,303.72 L109.51,303.55 L109.90,303.39 L110.30,303.24 L110.69,303.09 L111.09,302.94 L111.49,302.81 L111.88,302.67 L112.28,302.54 L112.67,302.42 L113.07,302.30 L113.46,302.19 L113.86,302.08 L114.25,301.97 L114.65,301.87 L115.04,301.78 L115.44,301.68 L115.84,301.60 L116.23,301.52 L116.63,301.44 L117.02,301.37 L117.42,301.30 L117.81,301.23 L118.21,301.17 L118.60,301.11 L119.00,301.06 L119.39,301.01 L119.79,300.97 L120.19,300.93 L120.58,300.89 L120.98,300.86 L121.37,300.83 L121.77,300.81 L122.16,300.79 L122.56,300.77 L122.95,300.76 L123.35,300.75 L123.74,300.74 L124.14,300.74 L124.53,300.74 L124.93,300.74 L125.33,300.75 L125.72,300.76 L126.12,300.78 L126.51,300.80 L126.91,300.82 L127.30,300.84 L127.70,300.87 L128.09,300.90 L128.49,300.93 L128.88,300.97 L129.28,301.01 L129.68,301.05 L130.07,301.10 L130.47,301.15 L130.86,301.20 L131.26,301.25 L131.65,301.31 L132.05,301.37 L132.44,301.43 L132.84,301.50 L133.23,301.57 L133.63,301.64 L134.02,301.71 L134.42,301.79 L134.82,301.86 L135.21,301.95 L135.61,302.03 L136.00,302.11 L136.40,302.20 L136.79,302.29 L137.19,302.39 L137.58,302.48 L137.98,302.58 L138.37,302.68 L138.77,302.78 L139.17,302.89 L139.56,302.99 L139.96,303.10 L140.35,303.21 L140.75,303.33 L141.14,303.44 L141.54,303.56 L141.93,303.68 L142.33,303.80 L142.72,303.92 L143.12,304.05 L143.51,304.18 L143.91,304.30 L144.31,304.43 L144.70,304.57 L145.10,304.70 L145.49,304.84 L145.89,304.98 L146.28,305.12 L146.68,305.26 L147.07,305.40 L147.47,305.54 L147.86,305.69 L148.26,305.84 L148.66,305.99 L149.05,306.14 L149.45,306.29 L149.84,306.45 L150.24,306.60 L150.63,306.76 L151.03,306.92 L151.42,307.08 L151.82,307.24 L152.21,307.40 L152.61,307.56 L153.00,307.73 L153.40,307.90 L153.80,308.06 L154.19,308.23 L154.59,308.40 L154.98,308.57 L155.38,308.75 L155.77,308.92 L156.17,309.10 L156.56,309.27 L156.96,309.45 L157.35,309.63 L157.75,309.81 L158.14,309.99 L158.54,310.17 L158.94,310.35 L159.33,310.54 L159.73,310.72 L160.12,310.91 L160.52,311.09 L160.91,311.28 L161.31,311.47 L161.70,311.66 L162.10,311.85 L162.49,312.04 L162.89,312.23 L163.29,312.43 L163.68,312.62 L164.08,312.82 L164.47,313.01 L164.87,313.21 L165.26,313.41 L165.66,313.60 L166.05,313.80 L166.45,314.00 L166.84,314.20 L167.24,314.40 L167.63,314.60 L168.03,314.80 L168.43,315.01 L168.82,315.21 L169.22,315.41 L169.61,315.62 L170.01,315.82 L170.40,316.03 L170.80,316.24 L171.19,316.44 L171.59,316.65 L171.98,316.86 L172.38,317.07 L172.78,317.27 L173.17,317.48 L173.57,317.69 L173.96,317.90 L174.36,318.11 L174.75,318.33 L175.15,318.54 L175.54,318.75 L175.94,318.96 L176.33,319.17 L176.73,319.39 L177.12,319.60 L178.71,320.46 L180.29,321.32 L181.87,322.18 L183.45,323.05 L185.03,323.93 L186.62,324.80 L188.20,325.68 L189.78,326.56 L191.36,327.43 L192.94,328.31 L194.52,329.19 L196.10,330.07 L197.69,330.95 L199.27,331.82 L200.85,332.69 L202.43,333.56 L204.01,334.43 L205.59,335.30 L207.18,336.16 L208.76,337.02 L210.34,337.87 L211.92,338.72 L213.50,339.56 L215.09,340.40 L216.67,341.24 L218.25,342.07 L219.83,342.90 L221.41,343.71 L222.99,344.53 L224.58,345.34 L226.16,346.14 L227.74,346.93 L229.32,347.72 L230.90,348.50 L232.48,349.28 L234.06,350.05 L235.65,350.81 L237.23,351.57 L238.81,352.32 L240.39,353.06 L241.97,353.79 L243.55,354.52 L245.14,355.24 L246.72,355.95 L248.30,356.66 L249.88,357.35 L251.46,358.04 L253.04,358.73 L254.63,359.40 L256.21,360.07 L257.79,360.73 L259.37,361.38 L260.95,362.03 L262.53,362.67 L264.12,363.30 L265.70,363.92 L267.28,364.53 L268.86,365.14 L270.44,365.74 L272.02,366.34 L273.61,366.92 L275.19,367.50 L276.77,368.07 L278.35,368.63 L279.93,369.19 L281.51,369.74 L283.10,370.28 L284.68,370.82 L286.26,371.34 L287.84,371.86 L289.42,372.38 L291.00,372.88 L292.59,373.38 L294.17,373.88 L295.75,374.36 L297.33,374.84 L298.91,375.31 L300.50,375.78 L302.08,376.24 L303.66,376.69 L305.24,377.14 L306.82,377.58 L308.40,378.01 L309.99,378.44 L311.57,378.86 L313.15,379.27 L314.73,379.68 L316.31,380.08 L317.89,380.48 L319.47,380.87 L321.06,381.26 L322.64,381.64 L324.22,382.01 L325.80,382.38 L327.38,382.74 L328.96,383.10 L330.55,383.45 L332.13,383.79 L333.71,384.13 L335.29,384.47 L336.87,384.80 L338.45,385.12 L340.04,385.44 L341.62,385.76 L343.20,386.07 L344.78,386.37 L346.36,386.67 L347.94,386.97 L349.53,387.26 L351.11,387.54 L352.69,387.82 L354.27,388.10 L355.85,388.37 L357.44,388.64 L359.02,388.91 L360.60,389.17 L362.18,389.42 L363.76,389.67 L365.34,389.92 L366.93,390.16 L368.51,390.40 L370.09,390.64 L371.67,390.87 L373.25,391.10 L374.83,391.32 L376.41,391.54 L378.00,391.76 L379.58,391.97 L381.16,392.18 L382.74,392.39 L384.32,392.59 L385.91,392.79 L387.49,392.98 L389.07,393.18 L390.65,393.37 L392.23,393.55 L393.81,393.73 L395.39,393.91 L396.98,394.09 L398.56,394.27 L400.14,394.44 L401.72,394.61 L403.30,394.77 L404.88,394.93 L406.47,395.09 L408.05,395.25 L409.63,395.41 L411.21,395.56 L412.79,395.71 L414.38,395.85 L415.96,396.00 L417.54,396.14 L419.12,396.28 L420.70,396.42 L422.28,396.55 L423.87,396.69 L425.45,396.82 L427.03,396.94 L428.61,397.07 L430.19,397.19 L431.77,397.32 L433.36,397.43 L434.94,397.55 L436.52,397.67 L438.10,397.78 L439.68,397.89 L441.26,398.00 L442.84,398.11 L444.43,398.22 L446.01,398.32 L447.59,398.42 L449.17,398.52 L450.75,398.62 L452.34,398.72 L453.92,398.81 L455.50,398.91 L457.08,399.00 L458.66,399.09 L460.24,399.18 L461.82,399.27 L463.41,399.35 L464.99,399.44 L466.57,399.52 L468.15,399.60 L469.73,399.68 L471.32,399.76 L472.90,399.84 L474.48,399.91 L476.06,399.99 L477.64,400.06 L479.22,400.13 L480.81,400.20 L482.39,400.27 L483.97,400.34 L485.55,400.41 L487.13,400.47 L488.71,400.54 L490.30,400.60 L491.88,400.67 L493.46,400.73 L495.04,400.79 L496.62,400.85 L498.20,400.90 L499.79,400.96 L501.37,401.02 L502.95,401.07 L504.53,401.13 L506.11,401.18 L507.69,401.23 L509.28,401.28 L510.86,401.33 L512.44,401.38 L514.02,401.43 L515.60,401.48 L517.18,401.52 L518.77,401.57 L520.35,401.62 L521.93,401.66 L523.51,401.70 L525.09,401.75 L526.67,401.79 L528.26,401.83 L529.84,401.87 L531.42,401.91 L533.00,401.95" stroke="#ff0000" stroke-dasharray="7.2 2.5 2 2.5"/>
<path d="M58.50,403.95 L58.90,403.95 L59.29,403.95 L59.69,403.95 L60.08,403.95 L60.48,403.95 L60.87,403.95 L61.27,403.95 L61.66,403.95 L62.06,403.95 L62.45,403.95 L62.85,403.95 L63.24,403.95 L63.64,403.95 L64.04,403.95 L64.43,403.95 L64.83,403.95 L65.22,403.95 L65.62,403.95 L66.01,403.95 L66.41,403.95 L66.80,403.95 L67.20,403.95 L67.59,400.76 L67.99,394.47 L68.39,387.31 L68.78,380.06 L69.18,373.01 L69.57,366.29 L69.97,359.94 L70.36,353.94 L70.76,348.27 L71.15,342.93 L71.55,337.87 L71.94,333.09 L72.34,328.56 L72.73,324.27 L73.13,320.19 L73.53,316.31 L73.92,312.62 L74.32,309.11 L74.71,305.75 L75.11,302.54 L75.50,299.47 L75.90,296.54 L76.29,293.72 L76.69,291.01 L77.08,288.41 L77.48,285.91 L77.88,283.50 L78.27,281.18 L78.67,278.94 L79.06,276.77 L79.46,274.68 L79.85,272.65 L80.25,270.69 L80.64,268.78 L81.04,266.94 L81.43,265.14 L81.83,263.40 L82.22,261.70 L82.62,260.06 L83.02,258.45 L83.41,256.89 L83.81,255.36 L84.20,253.87 L84.60,252.42 L84.99,251.01 L85.39,249.62 L85.78,248.27 L86.18,246.95 L86.57,245.66 L86.97,244.40 L87.37,243.17 L87.76,241.96 L88.16,240.78 L88.55,239.62 L88.95,238.49 L89.34,237.39 L89.74,236.30 L90.13,235.24 L90.53,234.20 L90.92,233.18 L91.32,232.18 L91.72,231.20 L92.11,230.25 L92.51,229.31 L92.90,228.39 L93.30,227.49 L93.69,226.61 L94.09,225.74 L94.48,224.90 L94.88,224.07 L95.27,223.26 L95.67,222.46 L96.06,221.68 L96.46,220.92 L96.86,220.17 L97.25,219.44 L97.65,218.73 L98.04,218.03 L98.44,217.35 L98.83,216.68 L99.23,216.02 L99.62,215.38 L100.02,214.76 L100.41,214.14 L100.81,213.55 L101.21,212.96 L101.60,212.39 L102.00,211.84 L102.39,211.29 L102.79,210.76 L103.18,210.24 L103.58,209.74 L103.97,209.25 L104.37,208.77 L104.76,208.30 L105.16,207.84 L105.55,207.40 L105.95,206.97 L106.35,206.55 L106.74,206.14 L107.14,205.74 L107.53,205.36 L107.93,204.99 L108.32,204.62 L108.72,204.27 L109.11,203.93 L109.51,203.60 L109.90,203.28 L110.30,202.97 L110.69,202.68 L111.09,202.39 L111.49,202.11 L111.88,201.84 L112.28,201.58 L112.67,201.34 L113.07,201.10 L113.46,200.87 L113.86,200.65 L114.25,200.44 L114.65,200.24 L115.04,200.05 L115.44,199.87 L115.84,199.70 L116.23,199.53 L116.63,199.38 L117.02,199.23 L117.42,199.09 L117.81,198.96 L118.21,198.84 L118.60,198.73 L119.00,198.63 L119.39,198.53 L119.79,198.44 L120.19,198.36 L120.58,198.29 L120.98,198.22 L121.37,198.17 L121.77,198.12 L122.16,198.08 L122.56,198.04 L122.95,198.02 L123.35,198.00 L123.74,197.98 L124.14,197.98 L124.53,197.98 L124.93,197.99 L125.33,198.00 L125.72,198.03 L126.12,198.05 L126.51,198.09 L126.91,198.13 L127.30,198.18 L127.70,198.24 L128.09,198.30 L128.49,198.36 L128.88,198.44 L129.28,198.52 L129.68,198.60 L130.07,198.69 L130.47,198.79 L130.86,198.89 L131.26,199.00 L131.65,199.12 L132.05,199.24 L132.44,199.36 L132.84,199.49 L133.23,199.63 L133.63,199.77 L134.02,199.92 L134.42,200.07 L134.82,200.23 L135.21,200.39 L135.61,200.56 L136.00,200.73 L136.40,200.91 L136.79,201.09 L137.19,201.27 L137.58,201.47 L137.98,201.66 L138.37,201.86 L138.77,202.07 L139.17,202.27 L139.56,202.49 L139.96,202.71 L140.35,202.93 L140.75,203.15 L141.14,203.38 L141.54,203.62 L141.93,203.86 L142.33,204.10 L142.72,204.35 L143.12,204.60 L143.51,204.85 L143.91,205.11 L144.31,205.37 L144.70,205.63 L145.10,205.90 L145.49,206.18 L145.89,206.45 L146.28,206.73 L146.68,207.01 L147.07,207.30 L147.47,207.59 L147.86,207.88 L148.26,208.18 L148.66,208.48 L149.05,208.78 L149.45,209.08 L149.84,209.39 L150.24,209.70 L150.63,210.02 L151.03,210.33 L151.42,210.65 L151.82,210.97 L152.21,211.30 L152.61,211.63 L153.00,211.96 L153.40,212.29 L153.80,212.63 L154.19,212.96 L154.59,213.31 L154.98,213.65 L155.38,213.99 L155.77,214.34 L156.17,214.69 L156.56,215.05 L156.96,215.40 L157.35,215.76 L157.75,216.12 L158.14,216.48 L158.54,216.84 L158.94,217.21 L159.33,217.57 L159.73,217.94 L160.12,218.32 L160.52,218.69 L160.91,219.07 L161.31,219.44 L161.70,219.82 L162.10,220.20 L162.49,220.59 L162.89,220.97 L163.29,221.36 L163.68,221.74 L164.08,222.13 L164.47,222.52 L164.87,222.92 L165.26,223.31 L165.66,223.71 L166.05,224.10 L166.45,224.50 L166.84,224.90 L167.24,225.30 L167.63,225.71 L168.03,226.11 L168.43,226.51 L168.82,226.92 L169.22,227.33 L169.61,227.74 L170.01,228.15 L170.40,228.56 L170.80,228.97 L171.19,229.38 L171.59,229.80 L171.98,230.21 L172.38,230.63 L172.78,231.05 L173.17,231.47 L173.57,231.89 L173.96,232.31 L174.36,232.73 L174.75,233.15 L175.15,233.57 L175.54,234.00 L175.94,234.42 L176.33,234.85 L176.73,235.27 L177.12,235.70 L178.71,237.41 L180.29,239.14 L181.87,240.87 L183.45,242.61 L185.03,244.35 L186.62,246.10 L188.20,247.86 L189.78,249.61 L191.36,251.37 L192.94,253.13 L194.52,254.88 L196.10,256.64 L197.69,258.39 L199.27,260.14 L200.85,261.89 L202.43,263.63 L204.01,265.36 L205.59,267.09 L207.18,268.82 L208.76,270.53 L210.34,272.24 L211.92,273.94 L213.50,275.63 L215.09,277.31 L216.67,278.98 L218.25,280.64 L219.83,282.29 L221.41,283.93 L222.99,285.56 L224.58,287.17 L226.16,288.78 L227.74,290.37 L229.32,291.94 L230.90,293.51 L232.48,295.06 L234.06,296.60 L235.65,298.12 L237.23,299.63 L238.81,301.13 L240.39,302.61 L241.97,304.08 L243.55,305.54 L245.14,306.98 L246.72,308.40 L248.30,309.81 L249.88,311.21 L251.46,312.59 L253.04,313.95 L254.63,315.30 L256.21,316.64 L257.79,317.96 L259.37,319.27 L260.95,320.56 L262.53,321.83 L264.12,323.09 L265.70,324.34 L267.28,325.57 L268.86,326.78 L270.44,327.99 L272.02,329.17 L273.61,330.34 L275.19,331.50 L276.77,332.64 L278.35,333.77 L279.93,334.88 L281.51,335.98 L283.10,337.06 L284.68,338.13 L286.26,339.19 L287.84,340.23 L289.42,341.25 L291.00,342.27 L292.59,343.27 L294.17,344.25 L295.75,345.22 L297.33,346.18 L298.91,347.13 L300.50,348.06 L302.08,348.98 L303.66,349.88 L305.24,350.77 L306.82,351.65 L308.40,352.52 L309.99,353.37 L311.57,354.22 L313.15,355.04 L314.73,355.86 L316.31,356.67 L317.89,357.46 L319.47,358.24 L321.06,359.01 L322.64,359.77 L324.22,360.51 L325.80,361.25 L327.38,361.97 L328.96,362.69 L330.55,363.39 L332.13,364.08 L333.71,364.76 L335.29,365.43 L336.87,366.09 L338.45,366.74 L340.04,367.38 L341.62,368.01 L343.20,368.62 L344.78,369.23 L346.36,369.83 L347.94,370.42 L349.53,371.00 L351.11,371.57 L352.69,372.14 L354.27,372.69 L355.85,373.23 L357.44,373.77 L359.02,374.29 L360.60,374.81 L362.18,375.32 L363.76,375.82 L365.34,376.31 L366.93,376.80 L368.51,377.28 L370.09,377.74 L371.67,378.21 L373.25,378.66 L374.83,379.11 L376.41,379.54 L378.00,379.97 L379.58,380.40 L381.16,380.82 L382.74,381.22 L384.32,381.63 L385.91,382.02 L387.49,382.41 L389.07,382.80 L390.65,383.17 L392.23,383.54 L393.81,383.91 L395.39,384.26 L396.98,384.61 L398.56,384.96 L400.14,385.30 L401.72,385.63 L403.30,385.96 L404.88,386.28 L406.47,386.60 L408.05,386.91 L409.63,387.21 L411.21,387.52 L412.79,387.81 L414.38,388.10 L415.96,388.39 L417.54,388.67 L419.12,388.94 L420.70,389.21 L422.28,389.48 L423.87,389.74 L425.45,389.99 L427.03,390.25 L428.61,390.49 L430.19,390.74 L431.77,390.98 L433.36,391.21 L434.94,391.44 L436.52,391.67 L438.10,391.89 L439.68,392.11 L441.26,392.33 L442.84,392.54 L444.43,392.74 L446.01,392.95 L447.59,393.15 L449.17,393.34 L450.75,393.54 L452.34,393.73 L453.92,393.91 L455.50,394.10 L457.08,394.28 L458.66,394.45 L460.24,394.63 L461.82,394.80 L463.41,394.96 L464.99,395.13 L466.57,395.29 L468.15,395.45 L469.73,395.61 L471.32,395.76 L472.90,395.91 L474.48,396.06 L476.06,396.20 L477.64,396.34 L479.22,396.48 L480.81,396.62 L482.39,396.76 L483.97,396.89 L485.55,397.02 L487.13,397.15 L488.71,397.27 L490.30,397.40 L491.88,397.52 L493.46,397.64 L495.04,397.75 L496.62,397.87 L498.20,397.98 L499.79,398.09 L501.37,398.20 L502.95,398.31 L504.53,398.41 L506.11,398.52 L507.69,398.62 L509.28,398.72 L510.86,398.82 L512.44,398.91 L514.02,399.01 L515.60,399.10 L517.18,399.19 L518.77,399.28 L520.35,399.37 L521.93,399.45 L523.51,399.54 L525.09,399.62 L526.67,399.70 L528.26,399.78 L529.84,399.86 L531.42,399.94 L533.00,400.01" stroke="#00ff00" stroke-dasharray="7.2 2.5 2 2.5"/>
<path d="M58.50,403.95 L58.90,403.95 L59.29,403.95 L59.69,403.95 L60.08,403.95 L60.48,403.95 L60.87,403.95 L61.27,403.95 L61.66,403.95 L62.06,403.95 L62.45,403.95 L62.85,403.95 L63.24,403.95 L63.64,403.95 L64.04,403.95 L64.43,403.95 L64.83,403.95 L65.22,403.95 L65.62,403.95 L66.01,403.95 L66.41,403.95 L66.80,403.95 L67.20,403.95 L67.59,399.22 L67.99,389.91 L68.39,379.21 L68.78,368.33 L69.18,357.77 L69.57,347.69 L69.97,338.16 L70.36,329.16 L70.76,320.66 L71.15,312.64 L71.55,305.06 L71.94,297.89 L72.34,291.09 L72.73,284.65 L73.13,278.54 L73.53,272.72 L73.92,267.18 L74.32,261.91 L74.71,256.87 L75.11,252.06 L75.50,247.46 L75.90,243.05 L76.29,238.83 L76.69,234.77 L77.08,230.87 L77.48,227.12 L77.88,223.51 L78.27,220.02 L78.67,216.66 L79.06,213.41 L79.46,210.27 L79.85,207.23 L80.25,204.28 L80.64,201.43 L81.04,198.66 L81.43,195.96 L81.83,193.35 L82.22,190.81 L82.62,188.33 L83.02,185.92 L83.41,183.58 L83.81,181.29 L84.20,179.06 L84.60,176.88 L84.99,174.76 L85.39,172.69 L85.78,170.66 L86.18,168.68 L86.57,166.75 L86.97,164.85 L87.37,163.00 L87.76,161.19 L88.16,159.42 L88.55,157.69 L88.95,155.99 L89.34,154.33 L89.74,152.70 L90.13,151.11 L90.53,149.55 L90.92,148.02 L91.32,146.52 L91.72,145.06 L92.11,143.62 L92.51,142.21 L92.90,140.83 L93.30,139.48 L93.69,138.16 L94.09,136.86 L94.48,135.60 L94.88,134.35 L95.27,133.13 L95.67,131.94 L96.06,130.77 L96.46,129.63 L96.86,128.51 L97.25,127.42 L97.65,126.34 L98.04,125.30 L98.44,124.27 L98.83,123.27 L99.23,122.28 L99.62,121.32 L100.02,120.38 L100.41,119.47 L100.81,118.57 L101.21,117.69 L101.60,116.84 L102.00,116.00 L102.39,115.19 L102.79,114.39 L103.18,113.61 L103.58,112.86 L103.97,112.12 L104.37,111.40 L104.76,110.70 L105.16,110.01 L105.55,109.35 L105.95,108.70 L106.35,108.07 L106.74,107.46 L107.14,106.87 L107.53,106.29 L107.93,105.73 L108.32,105.19 L108.72,104.66 L109.11,104.15 L109.51,103.65 L109.90,103.17 L110.30,102.71 L110.69,102.26 L111.09,101.83 L111.49,101.42 L111.88,101.01 L112.28,100.63 L112.67,100.26 L113.07,99.90 L113.46,99.56 L113.86,99.23 L114.25,98.91 L114.65,98.61 L115.04,98.33 L115.44,98.05 L115.84,97.79 L116.23,97.55 L116.63,97.32 L117.02,97.10 L117.42,96.89 L117.81,96.70 L118.21,96.51 L118.60,96.34 L119.00,96.19 L119.39,96.04 L119.79,95.91 L120.19,95.79 L120.58,95.68 L120.98,95.59 L121.37,95.50 L121.77,95.43 L122.16,95.37 L122.56,95.31 L122.95,95.27 L123.35,95.24 L123.74,95.23 L124.14,95.22 L124.53,95.22 L124.93,95.23 L125.33,95.26 L125.72,95.29 L126.12,95.33 L126.51,95.39 L126.91,95.45 L127.30,95.52 L127.70,95.60 L128.09,95.69 L128.49,95.80 L128.88,95.91 L129.28,96.03 L129.68,96.15 L130.07,96.29 L130.47,96.44 L130.86,96.59 L131.26,96.75 L131.65,96.93 L132.05,97.11 L132.44,97.29 L132.84,97.49 L133.23,97.70 L133.63,97.91 L134.02,98.13 L134.42,98.36 L134.82,98.59 L135.21,98.84 L135.61,99.09 L136.00,99.34 L136.40,99.61 L136.79,99.88 L137.19,100.16 L137.58,100.45 L137.98,100.74 L138.37,101.04 L138.77,101.35 L139.17,101.66 L139.56,101.98 L139.96,102.31 L140.35,102.64 L140.75,102.98 L141.14,103.33 L141.54,103.68 L141.93,104.04 L142.33,104.40 L142.72,104.77 L143.12,105.14 L143.51,105.53 L143.91,105.91 L144.31,106.30 L144.70,106.70 L145.10,107.11 L145.49,107.51 L145.89,107.93 L146.28,108.35 L146.68,108.77 L147.07,109.20 L147.47,109.63 L147.86,110.07 L148.26,110.51 L148.66,110.96 L149.05,111.42 L149.45,111.87 L149.84,112.34 L150.24,112.80 L150.63,113.27 L151.03,113.75 L151.42,114.23 L151.82,114.71 L152.21,115.20 L152.61,115.69 L153.00,116.19 L153.40,116.69 L153.80,117.19 L154.19,117.70 L154.59,118.21 L154.98,118.72 L155.38,119.24 L155.77,119.76 L156.17,120.29 L156.56,120.82 L156.96,121.35 L157.35,121.89 L157.75,122.42 L158.14,122.97 L158.54,123.51 L158.94,124.06 L159.33,124.61 L159.73,125.17 L160.12,125.72 L160.52,126.28 L160.91,126.85 L161.31,127.41 L161.70,127.98 L162.10,128.55 L162.49,129.13 L162.89,129.70 L163.29,130.28 L163.68,130.87 L164.08,131.45 L164.47,132.04 L164.87,132.62 L165.26,133.22 L165.66,133.81 L166.05,134.40 L166.45,135.00 L166.84,135.60 L167.24,136.20 L167.63,136.81 L168.03,137.41 L168.43,138.02 L168.82,138.63 L169.22,139.24 L169.61,139.86 L170.01,140.47 L170.40,141.09 L170.80,141.71 L171.19,142.33 L171.59,142.95 L171.98,143.57 L172.38,144.20 L172.78,144.82 L173.17,145.45 L173.57,146.08 L173.96,146.71 L174.36,147.34 L174.75,147.98 L175.15,148.61 L175.54,149.25 L175.94,149.88 L176.33,150.52 L176.73,151.16 L177.12,151.80 L178.71,154.37 L180.29,156.96 L181.87,159.55 L183.45,162.16 L185.03,164.78 L186.62,167.40 L188.20,170.03 L189.78,172.67 L191.36,175.30 L192.94,177.94 L194.52,180.57 L196.10,183.21 L197.69,185.84 L199.27,188.46 L200.85,191.08 L202.43,193.69 L204.01,196.30 L205.59,198.89 L207.18,201.47 L208.76,204.05 L210.34,206.61 L211.92,209.16 L213.50,211.69 L215.09,214.21 L216.67,216.72 L218.25,219.21 L219.83,221.69 L221.41,224.14 L222.99,226.59 L224.58,229.01 L226.16,231.41 L227.74,233.80 L229.32,236.17 L230.90,238.51 L232.48,240.84 L234.06,243.15 L235.65,245.44 L237.23,247.70 L238.81,249.95 L240.39,252.17 L241.97,254.37 L243.55,256.55 L245.14,258.71 L246.72,260.85 L248.30,262.97 L249.88,265.06 L251.46,267.13 L253.04,269.18 L254.63,271.21 L256.21,273.21 L257.79,275.19 L259.37,277.15 L260.95,279.08 L262.53,281.00 L264.12,282.89 L265.70,284.76 L267.28,286.60 L268.86,288.43 L270.44,290.23 L272.02,292.01 L273.61,293.76 L275.19,295.50 L276.77,297.21 L278.35,298.90 L279.93,300.57 L281.51,302.22 L283.10,303.84 L284.68,305.45 L286.26,307.03 L287.84,308.59 L289.42,310.13 L291.00,311.65 L292.59,313.15 L294.17,314.63 L295.75,316.08 L297.33,317.52 L298.91,318.94 L300.50,320.34 L302.08,321.71 L303.66,323.07 L305.24,324.41 L306.82,325.73 L308.40,327.03 L309.99,328.31 L311.57,329.57 L313.15,330.82 L314.73,332.04 L316.31,333.25 L317.89,334.44 L319.47,335.61 L321.06,336.77 L322.64,337.90 L324.22,339.02 L325.80,340.12 L327.38,341.21 L328.96,342.28 L330.55,343.33 L332.13,344.37 L333.71,345.39 L335.29,346.39 L336.87,347.38 L338.45,348.36 L340.04,349.31 L341.62,350.26 L343.20,351.19 L344.78,352.10 L346.36,353.00 L347.94,353.88 L349.53,354.75 L351.11,355.61 L352.69,356.45 L354.27,357.28 L355.85,358.10 L357.44,358.90 L359.02,359.69 L360.60,360.47 L362.18,361.23 L363.76,361.98 L365.34,362.72 L366.93,363.45 L368.51,364.16 L370.09,364.87 L371.67,365.56 L373.25,366.24 L374.83,366.91 L376.41,367.56 L378.00,368.21 L379.58,368.85 L381.16,369.47 L382.74,370.09 L384.32,370.69 L385.91,371.28 L387.49,371.87 L389.07,372.44 L390.65,373.00 L392.23,373.56 L393.81,374.10 L395.39,374.64 L396.98,375.17 L398.56,375.68 L400.14,376.19 L401.72,376.69 L403.30,377.18 L404.88,377.67 L406.47,378.14 L408.05,378.61 L409.63,379.06 L411.21,379.51 L412.79,379.96 L414.38,380.39 L415.96,380.82 L417.54,381.24 L419.12,381.65 L420.70,382.05 L422.28,382.45 L423.87,382.84 L425.45,383.23 L427.03,383.60 L428.61,383.97 L430.19,384.34 L431.77,384.69 L433.36,385.04 L434.94,385.39 L436.52,385.73 L438.10,386.06 L439.68,386.39 L441.26,386.71 L442.84,387.02 L444.43,387.33 L446.01,387.64 L447.59,387.94 L449.17,388.23 L450.75,388.52 L452.34,388.80 L453.92,389.08 L455.50,389.35 L457.08,389.62 L458.66,389.88 L460.24,390.14 L461.82,390.39 L463.41,390.64 L464.99,390.89 L466.57,391.13 L468.15,391.36 L469.73,391.60 L471.32,391.82 L472.90,392.05 L474.48,392.27 L476.06,392.48 L477.64,392.69 L479.22,392.90 L480.81,393.10 L482.39,393.31 L483.97,393.50 L485.55,393.70 L487.13,393.88 L488.71,394.07 L490.30,394.25 L491.88,394.43 L493.46,394.61 L495.04,394.78 L496.62,394.95 L498.20,395.12 L499.79,395.28 L501.37,395.44 L502.95,395.60 L504.53,395.76 L506.11,395.91 L507.69,396.06 L509.28,396.21 L510.86,396.35 L512.44,396.49 L514.02,396.63 L515.60,396.77 L517.18,396.90 L518.77,397.03 L520.35,397.16 L521.93,397.29 L523.51,397.41 L525.09,397.54 L526.67,397.66 L528.26,397.78 L529.84,397.89 L531.42,398.00 L533.00,398.12" stroke="#0000ff" stroke-dasharray="7.2 2.5 2 2.5"/>
</g>
<g font-family="Liberation Sans, Arial, Helvetica, sans-serif" fill="#262626" stroke="#262626" stroke-width="0.25" font-size="14.4px">
<text transform="translate(58.50,425.2) scale(1,1.07)" text-anchor="middle">0</text>
<text transform="translate(137.58,425.2) scale(1,1.07)" text-anchor="middle">1</text>
<text transform="translate(216.67,425.2) scale(1,1.07)" text-anchor="middle">2</text>
<text transform="translate(295.75,425.2) scale(1,1.07)" text-anchor="middle">3</text>
<text transform="translate(374.83,425.2) scale(1,1.07)" text-anchor="middle">4</text>
<text transform="translate(453.92,425.2) scale(1,1.07)" text-anchor="middle">5</text>
<text transform="translate(533.00,425.2) scale(1,1.07)" text-anchor="middle">6</text>
<text transform="translate(52.3,409.90) scale(1,1.07)" text-anchor="end">0</text>
<text transform="translate(52.3,347.15) scale(1,1.07)" text-anchor="end">20</text>
<text transform="translate(52.3,284.40) scale(1,1.07)" text-anchor="end">40</text>
<text transform="translate(52.3,221.65) scale(1,1.07)" text-anchor="end">60</text>
<text transform="translate(52.3,158.90) scale(1,1.07)" text-anchor="end">80</text>
<text transform="translate(52.3,96.15) scale(1,1.07)" text-anchor="end">100</text>
<text transform="translate(52.3,33.40) scale(1,1.07)" text-anchor="end">120</text>
</g>
<text font-family="Liberation Sans, Arial, Helvetica, sans-serif" fill="#000" font-size="15.84px" font-weight="bold" transform="translate(295.75,21.6) scale(1,0.95)" text-anchor="middle">IP vs. SC insulin absorption</text>
<text font-family="Liberation Sans, Arial, Helvetica, sans-serif" fill="#262626" stroke="#262626" stroke-width="0.25" font-size="15.84px" x="295.75" y="446.7" text-anchor="middle">time (h)</text>
<text font-family="Liberation Sans, Arial, Helvetica, sans-serif" fill="#262626" stroke="#262626" stroke-width="0.25" font-size="15.84px" transform="translate(19.6,215.1) rotate(-90)" text-anchor="middle" textLength="164.4" lengthAdjust="spacing">plasma insulin (<tspan font-style="italic" font-size="17.5px">μ</tspan>U/mL)</text>
<rect x="415.5" y="42.5" width="103.0" height="112.0" fill="#fff" stroke="#262626" stroke-width="1"/>
<path d="M420.0,54.25 h33.0" stroke="#ff0000" stroke-width="1.2" fill="none"/>
<text font-family="Liberation Sans, Arial, Helvetica, sans-serif" fill="#000" stroke="#000" stroke-width="0.25" font-size="12.96px" transform="translate(456.5,59.55) scale(1,1.07)">IP - 5 U</text>
<path d="M420.0,72.19 h33.0" stroke="#00ff00" stroke-width="1.2" fill="none"/>
<text font-family="Liberation Sans, Arial, Helvetica, sans-serif" fill="#000" stroke="#000" stroke-width="0.25" font-size="12.96px" transform="translate(456.5,77.49) scale(1,1.07)">IP - 10 U</text>
<path d="M420.0,90.13 h33.0" stroke="#0000ff" stroke-width="1.2" fill="none"/>
<text font-family="Liberation Sans, Arial, Helvetica, sans-serif" fill="#000" stroke="#000" stroke-width="0.25" font-size="12.96px" transform="translate(456.5,95.43) scale(1,1.07)">IP - 15 U</text>
<path d="M420.0,108.07 h33.0" stroke="#ff0000" stroke-width="1.2" fill="none" stroke-dasharray="7.2 2.5 2 2.5"/>
<text font-family="Liberation Sans, Arial, Helvetica, sans-serif" fill="#000" stroke="#000" stroke-width="0.25" font-size="12.96px" transform="translate(456.5,113.37) scale(1,1.07)">SC - 5 U</text>
<path d="M420.0,126.01 h33.0" stroke="#00ff00" stroke-width="1.2" fill="none" stroke-dasharray="7.2 2.5 2 2.5"/>
<text font-family="Liberation Sans, Arial, Helvetica, sans-serif" fill="#000" stroke="#000" stroke-width="0.25" font-size="12.96px" transform="translate(456.5,131.31) scale(1,1.07)">SC - 10 U</text>
<path d="M420.0,143.95 h33.0" stroke="#0000ff" stroke-width="1.2" fill="none" stroke-dasharray="7.2 2.5 2 2.5"/>
<text font-family="Liberation Sans, Arial, Helvetica, sans-serif" fill="#000" stroke="#000" stroke-width="0.25" font-size="12.96px" transform="translate(456.5,149.25) scale(1,1.07)">SC - 15 U</text>
</svg>
</body></html>
